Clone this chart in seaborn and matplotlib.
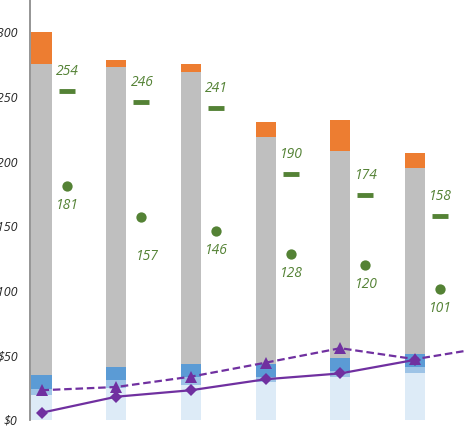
import numpy as np
import pandas as pd
import matplotlib
matplotlib.use("Agg")
import matplotlib.pyplot as plt
import seaborn as sns

# values ($)
periods = ["P1", "P2", "P3", "P4", "P5", "P6"]
light_part = [19, 25, 27, 29, 33, 36]
mid_part = [5, 6, 6, 4, 5, 5]
blue_part = [11, 10, 10, 10, 10, 10]
gray_part = [240, 232, 226, 176, 160, 144]
orange_part = [25, 5, 6, 11, 24, 11]

solid_line = [5.6, 18, 23, 31.5, 36, 46.5]
dashed_line = [23, 25.5, 33.5, 44.3, 55.5, 47, 56.5]  # last point is off to the right

dash_values = [254, 246, 241, 190, 174, 158]
dot_values = [181, 157, 146, 128, 120, 101]

tick_values = [0, 50, 100, 150, 200, 250, 300]

GREEN = "#548235"
PURPLE = "#7030A0"


def build_stack():
    df = pd.DataFrame({
        "period": periods,
        "light": light_part,
        "mid": mid_part,
        "blue": blue_part,
        "gray": gray_part,
        "orange": orange_part,
    })
    cols = ["light", "mid", "blue", "gray", "orange"]
    cum = df[cols].cumsum(axis=1)
    cum["period"] = df["period"]
    return cum


def plot_chart(cum):
    sns.set_style("white")
    plt.rcParams["font.family"] = ["Open Sans", "DejaVu Sans"]

    fig = plt.figure(figsize=(4.67, 4.30), dpi=100)
    ax = fig.add_axes([29.5 / 467, 10 / 430, 1 - 29.5 / 467, 1 - 10 / 430])

    layers = [
        ("orange", "#ED7D31"),
        ("gray", "#BFBFBF"),
        ("blue", "#5B9BD5"),
        ("mid", "#9DC3E6"),
        ("light", "#DDEBF7"),
    ]
    for col, colour in layers:
        sns.barplot(
            data=cum, x="period", y=col, order=periods,
            color=colour, saturation=1, width=0.27,
            errorbar=None, linewidth=0, ax=ax
        )

    pos = np.arange(len(periods))

    sns.lineplot(
        x=np.arange(len(dashed_line)), y=dashed_line,
        color=PURPLE, linewidth=1.6, linestyle=(0, (3.4, 1.7)),
        marker="^", markersize=8, markeredgewidth=0, ax=ax
    )
    sns.lineplot(
        x=pos, y=solid_line,
        color=PURPLE, linewidth=1.6,
        marker="D", markersize=6.5, markeredgewidth=0, ax=ax
    )

    shift = 0.335
    ax.plot(pos + shift, dash_values, ls="none", marker="_",
            ms=11, mew=3.5, color=GREEN)
    sns.scatterplot(x=pos + shift, y=dot_values, color=GREEN,
                    s=55, linewidth=0, ax=ax)

    label_kw = dict(textcoords="offset points", ha="center", va="center",
                    color=GREEN, fontsize=10, fontstyle="italic")
    for i, v in enumerate(dash_values):
        ax.annotate(f"{v}", (pos[i] + shift, v), xytext=(0.5, 14), **label_kw)

    # the 157 label sits lower than the others in the original
    nudge = {1: (4.5, -28.5)}
    for i, v in enumerate(dot_values):
        dx, dy = nudge.get(i, (0.5, -14))
        ax.annotate(f"{v}", (pos[i] + shift, v), xytext=(dx, dy), **label_kw)

    ax.set_xlim(-0.161, 5.696)
    ax.set_ylim(0, 324.6)
    ax.set_yticks(tick_values)
    ax.set_yticklabels([f"${t}" for t in tick_values],
                       fontstyle="italic", fontsize=9, color="#262626")
    ax.tick_params(axis="y", length=0, pad=8.5)
    ax.set_xticks([])
    ax.set_xlabel("")
    ax.set_ylabel("")

    for side in ["top", "right", "bottom"]:
        ax.spines[side].set_visible(False)
    ax.spines["left"].set_color("#8C8C8C")
    ax.spines["left"].set_linewidth(1.3)

    fig.savefig("out.png", dpi=100)
    plt.close(fig)


if __name__ == "__main__":
    cum = build_stack()
    plot_chart(cum)
